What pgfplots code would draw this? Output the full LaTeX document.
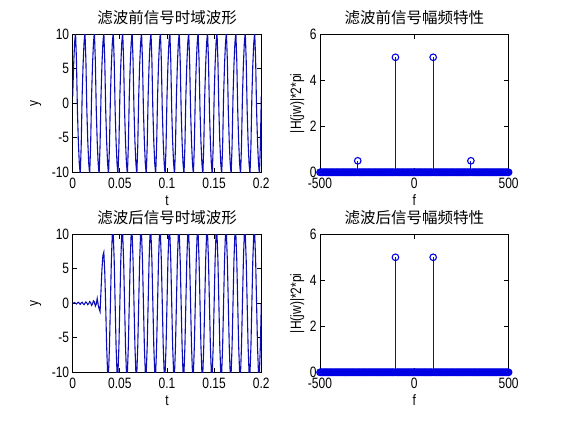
\documentclass[border=0pt]{standalone}
\usepackage{fontspec}
\setmainfont{Liberation Sans}[FakeStretch=0.8]
\newfontfamily\cjk{Noto Sans CJK SC}
\usepackage{pgfplots}
\pgfplotsset{compat=1.18}
\definecolor{mline}{rgb}{0.05,0.05,0.72}
\definecolor{mmark}{rgb}{0.0,0.0,0.9}
\pgfplotsset{
  ml/.style={
    scale only axis, width=188.6pt, height=138pt,
    axis line style={line width=0.9pt, black},
    tick style={black, line width=0.9pt},
    major tick length=4.5pt, tick align=inside,
    tick label style={font=\fontsize{15}{15}\selectfont},
    label style={font=\fontsize{15}{15}\selectfont},
    title style={font=\cjk\fontsize{15.5}{16}\selectfont, at={(axis description cs:0.5,1.0)}, anchor=south},
    enlargelimits=false,
    xticklabel style={yshift=-2pt},
    xlabel style={at={(axis description cs:0.5,-0.237)}, anchor=base},
  },
  tl/.style={ml, xmin=0, xmax=0.2, ymin=-10, ymax=10,
    xtick={0,0.05,0.1,0.15,0.2}, xticklabels={0,0.05,0.1,0.15,0.2},
    ytick={-10,-5,0,5,10}, yticklabels={-10,-5,0,5,10},
    xlabel={t}, ylabel={y},
    ylabel style={at={(axis description cs:-0.196,0.5)}, anchor=center},
  },
  sp/.style={ml, xmin=-500, xmax=500, ymin=0, ymax=6,
    xtick={-500,0,500}, xticklabels={-500,0,500},
    ytick={0,2,4,6}, yticklabels={0,2,4,6},
    xlabel={f}, ylabel={|H(jw)|*2*pi},
    ylabel style={at={(axis description cs:-0.12,0.5)}, anchor=center},
  },
}
\begin{document}
\begin{tikzpicture}
\path[use as bounding box] (0,0) rectangle (561pt,420pt);

% ---------------- top left ----------------
\begin{axis}[tl, at={(72.7pt,247.7pt)}, anchor=south west,
  title={滤波前信号时域波形}]
\addplot[mline, line width=1.1pt, no marks] coordinates {
(0.000,1)(0.001,5.569)(0.002,8.702)(0.003,10.32)(0.004,6.187)(0.005,-1)(0.006,-5.569)(0.007,-8.702)(0.008,-10.32)(0.009,-6.187)
(0.010,1)(0.011,5.569)(0.012,8.702)(0.013,10.32)(0.014,6.187)(0.015,-1)(0.016,-5.569)(0.017,-8.702)(0.018,-10.32)(0.019,-6.187)
(0.020,1)(0.021,5.569)(0.022,8.702)(0.023,10.32)(0.024,6.187)(0.025,-1)(0.026,-5.569)(0.027,-8.702)(0.028,-10.32)(0.029,-6.187)
(0.030,1)(0.031,5.569)(0.032,8.702)(0.033,10.32)(0.034,6.187)(0.035,-1)(0.036,-5.569)(0.037,-8.702)(0.038,-10.32)(0.039,-6.187)
(0.040,1)(0.041,5.569)(0.042,8.702)(0.043,10.32)(0.044,6.187)(0.045,-1)(0.046,-5.569)(0.047,-8.702)(0.048,-10.32)(0.049,-6.187)
(0.050,1)(0.051,5.569)(0.052,8.702)(0.053,10.32)(0.054,6.187)(0.055,-1)(0.056,-5.569)(0.057,-8.702)(0.058,-10.32)(0.059,-6.187)
(0.060,1)(0.061,5.569)(0.062,8.702)(0.063,10.32)(0.064,6.187)(0.065,-1)(0.066,-5.569)(0.067,-8.702)(0.068,-10.32)(0.069,-6.187)
(0.070,1)(0.071,5.569)(0.072,8.702)(0.073,10.32)(0.074,6.187)(0.075,-1)(0.076,-5.569)(0.077,-8.702)(0.078,-10.32)(0.079,-6.187)
(0.080,1)(0.081,5.569)(0.082,8.702)(0.083,10.32)(0.084,6.187)(0.085,-1)(0.086,-5.569)(0.087,-8.702)(0.088,-10.32)(0.089,-6.187)
(0.090,1)(0.091,5.569)(0.092,8.702)(0.093,10.32)(0.094,6.187)(0.095,-1)(0.096,-5.569)(0.097,-8.702)(0.098,-10.32)(0.099,-6.187)
(0.100,1)(0.101,5.569)(0.102,8.702)(0.103,10.32)(0.104,6.187)(0.105,-1)(0.106,-5.569)(0.107,-8.702)(0.108,-10.32)(0.109,-6.187)
(0.110,1)(0.111,5.569)(0.112,8.702)(0.113,10.32)(0.114,6.187)(0.115,-1)(0.116,-5.569)(0.117,-8.702)(0.118,-10.32)(0.119,-6.187)
(0.120,1)(0.121,5.569)(0.122,8.702)(0.123,10.32)(0.124,6.187)(0.125,-1)(0.126,-5.569)(0.127,-8.702)(0.128,-10.32)(0.129,-6.187)
(0.130,1)(0.131,5.569)(0.132,8.702)(0.133,10.32)(0.134,6.187)(0.135,-1)(0.136,-5.569)(0.137,-8.702)(0.138,-10.32)(0.139,-6.187)
(0.140,1)(0.141,5.569)(0.142,8.702)(0.143,10.32)(0.144,6.187)(0.145,-1)(0.146,-5.569)(0.147,-8.702)(0.148,-10.32)(0.149,-6.187)
(0.150,1)(0.151,5.569)(0.152,8.702)(0.153,10.32)(0.154,6.187)(0.155,-1)(0.156,-5.569)(0.157,-8.702)(0.158,-10.32)(0.159,-6.187)
(0.160,1)(0.161,5.569)(0.162,8.702)(0.163,10.32)(0.164,6.187)(0.165,-1)(0.166,-5.569)(0.167,-8.702)(0.168,-10.32)(0.169,-6.187)
(0.170,1)(0.171,5.569)(0.172,8.702)(0.173,10.32)(0.174,6.187)(0.175,-1)(0.176,-5.569)(0.177,-8.702)(0.178,-10.32)(0.179,-6.187)
(0.180,1)(0.181,5.569)(0.182,8.702)(0.183,10.32)(0.184,6.187)(0.185,-1)(0.186,-5.569)(0.187,-8.702)(0.188,-10.32)(0.189,-6.187)
(0.190,1)(0.191,5.569)(0.192,8.702)(0.193,10.32)(0.194,6.187)(0.195,-1)(0.196,-5.569)(0.197,-8.702)(0.198,-10.32)(0.199,-6.187)
(0.200,1)
};
\end{axis}

% ---------------- top right ----------------
\begin{axis}[sp, at={(320pt,247.7pt)}, anchor=south west,
  title={滤波前信号幅频特性}]
\addplot[ycomb, color=mline, line width=1pt, mark=o, mark size=3.3pt, mark options={draw=mmark, line width=1.1pt, solid}] coordinates {
(-500,0)(-495,0)(-490,0)(-485,0)(-480,0)(-475,0)(-470,0)(-465,0)(-460,0)(-455,0)
(-450,0)(-445,0)(-440,0)(-435,0)(-430,0)(-425,0)(-420,0)(-415,0)(-410,0)(-405,0)
(-400,0)(-395,0)(-390,0)(-385,0)(-380,0)(-375,0)(-370,0)(-365,0)(-360,0)(-355,0)
(-350,0)(-345,0)(-340,0)(-335,0)(-330,0)(-325,0)(-320,0)(-315,0)(-310,0)(-305,0)
(-300,0.5)(-295,0)(-290,0)(-285,0)(-280,0)(-275,0)(-270,0)(-265,0)(-260,0)(-255,0)
(-250,0)(-245,0)(-240,0)(-235,0)(-230,0)(-225,0)(-220,0)(-215,0)(-210,0)(-205,0)
(-200,0)(-195,0)(-190,0)(-185,0)(-180,0)(-175,0)(-170,0)(-165,0)(-160,0)(-155,0)
(-150,0)(-145,0)(-140,0)(-135,0)(-130,0)(-125,0)(-120,0)(-115,0)(-110,0)(-105,0)
(-100,5)(-95,0)(-90,0)(-85,0)(-80,0)(-75,0)(-70,0)(-65,0)(-60,0)(-55,0)
(-50,0)(-45,0)(-40,0)(-35,0)(-30,0)(-25,0)(-20,0)(-15,0)(-10,0)(-5,0)
(0,0)(5,0)(10,0)(15,0)(20,0)(25,0)(30,0)(35,0)(40,0)(45,0)
(50,0)(55,0)(60,0)(65,0)(70,0)(75,0)(80,0)(85,0)(90,0)(95,0)
(100,5)(105,0)(110,0)(115,0)(120,0)(125,0)(130,0)(135,0)(140,0)(145,0)
(150,0)(155,0)(160,0)(165,0)(170,0)(175,0)(180,0)(185,0)(190,0)(195,0)
(200,0)(205,0)(210,0)(215,0)(220,0)(225,0)(230,0)(235,0)(240,0)(245,0)
(250,0)(255,0)(260,0)(265,0)(270,0)(275,0)(280,0)(285,0)(290,0)(295,0)
(300,0.5)(305,0)(310,0)(315,0)(320,0)(325,0)(330,0)(335,0)(340,0)(345,0)
(350,0)(355,0)(360,0)(365,0)(370,0)(375,0)(380,0)(385,0)(390,0)(395,0)
(400,0)(405,0)(410,0)(415,0)(420,0)(425,0)(430,0)(435,0)(440,0)(445,0)
(450,0)(455,0)(460,0)(465,0)(470,0)(475,0)(480,0)(485,0)(490,0)(495,0)
(500,0)
};
\end{axis}

% ---------------- bottom left ----------------
\begin{axis}[tl, at={(72.7pt,47.7pt)}, anchor=south west,
  title={滤波后信号时域波形}]
\addplot[mline, line width=1.1pt, no marks] coordinates {
(0.000,0)(0.001,0.05)(0.002,0.1)(0.003,0)(0.004,-0.1)(0.005,0.05)(0.006,0.15)(0.007,0)(0.008,-0.15)(0.009,0.05)
(0.010,0.15)(0.011,-0.05)(0.012,-0.2)(0.013,0)(0.014,0.2)(0.015,0.05)(0.016,-0.2)(0.017,-0.05)(0.018,0.25)(0.019,0.1)
(0.020,-0.3)(0.021,-0.1)(0.022,0.35)(0.023,0.2)(0.024,-0.4)(0.025,-0.1)(0.026,0.7)(0.027,-0.2)(0.028,-0.8)(0.029,-1.2)
(0.030,1.8)(0.031,4.9)(0.032,6.9)(0.033,7.4)(0.034,4.5)(0.035,-0.5)(0.036,-6.23)(0.037,-10.08)(0.038,-10.08)(0.039,-6.23)
(0.040,0)(0.041,6.23)(0.042,10.08)(0.043,10.08)(0.044,6.23)(0.045,0)(0.046,-6.23)(0.047,-10.08)(0.048,-10.08)(0.049,-6.23)
(0.050,0)(0.051,6.23)(0.052,10.08)(0.053,10.08)(0.054,6.23)(0.055,0)(0.056,-6.23)(0.057,-10.08)(0.058,-10.08)(0.059,-6.23)
(0.060,0)(0.061,6.23)(0.062,10.08)(0.063,10.08)(0.064,6.23)(0.065,0)(0.066,-6.23)(0.067,-10.08)(0.068,-10.08)(0.069,-6.23)
(0.070,0)(0.071,6.23)(0.072,10.08)(0.073,10.08)(0.074,6.23)(0.075,0)(0.076,-6.23)(0.077,-10.08)(0.078,-10.08)(0.079,-6.23)
(0.080,0)(0.081,6.23)(0.082,10.08)(0.083,10.08)(0.084,6.23)(0.085,0)(0.086,-6.23)(0.087,-10.08)(0.088,-10.08)(0.089,-6.23)
(0.090,0)(0.091,6.23)(0.092,10.08)(0.093,10.08)(0.094,6.23)(0.095,0)(0.096,-6.23)(0.097,-10.08)(0.098,-10.08)(0.099,-6.23)
(0.100,0)(0.101,6.23)(0.102,10.08)(0.103,10.08)(0.104,6.23)(0.105,0)(0.106,-6.23)(0.107,-10.08)(0.108,-10.08)(0.109,-6.23)
(0.110,0)(0.111,6.23)(0.112,10.08)(0.113,10.08)(0.114,6.23)(0.115,0)(0.116,-6.23)(0.117,-10.08)(0.118,-10.08)(0.119,-6.23)
(0.120,0)(0.121,6.23)(0.122,10.08)(0.123,10.08)(0.124,6.23)(0.125,0)(0.126,-6.23)(0.127,-10.08)(0.128,-10.08)(0.129,-6.23)
(0.130,0)(0.131,6.23)(0.132,10.08)(0.133,10.08)(0.134,6.23)(0.135,0)(0.136,-6.23)(0.137,-10.08)(0.138,-10.08)(0.139,-6.23)
(0.140,0)(0.141,6.23)(0.142,10.08)(0.143,10.08)(0.144,6.23)(0.145,0)(0.146,-6.23)(0.147,-10.08)(0.148,-10.08)(0.149,-6.23)
(0.150,0)(0.151,6.23)(0.152,10.08)(0.153,10.08)(0.154,6.23)(0.155,0)(0.156,-6.23)(0.157,-10.08)(0.158,-10.08)(0.159,-6.23)
(0.160,0)(0.161,6.23)(0.162,10.08)(0.163,10.08)(0.164,6.23)(0.165,0)(0.166,-6.23)(0.167,-10.08)(0.168,-10.08)(0.169,-6.23)
(0.170,0)(0.171,6.23)(0.172,10.08)(0.173,10.08)(0.174,6.23)(0.175,0)(0.176,-6.23)(0.177,-10.08)(0.178,-10.08)(0.179,-6.23)
(0.180,0)(0.181,6.23)(0.182,10.08)(0.183,10.08)(0.184,6.23)(0.185,0)(0.186,-6.23)(0.187,-10.08)(0.188,-10.08)(0.189,-6.23)
(0.190,0)(0.191,6.23)(0.192,10.08)(0.193,10.08)(0.194,6.23)(0.195,0)(0.196,-6.23)(0.197,-10.08)(0.198,-10.08)(0.199,-6.23)
(0.200,0)
};
\end{axis}

% ---------------- bottom right ----------------
\begin{axis}[sp, at={(320pt,47.7pt)}, anchor=south west,
  title={滤波后信号幅频特性}]
\addplot[ycomb, color=mline, line width=1pt, mark=o, mark size=3.3pt, mark options={draw=mmark, line width=1.1pt, solid}] coordinates {
(-500,0)(-495,0)(-490,0)(-485,0)(-480,0)(-475,0)(-470,0)(-465,0)(-460,0)(-455,0)
(-450,0)(-445,0)(-440,0)(-435,0)(-430,0)(-425,0)(-420,0)(-415,0)(-410,0)(-405,0)
(-400,0)(-395,0)(-390,0)(-385,0)(-380,0)(-375,0)(-370,0)(-365,0)(-360,0)(-355,0)
(-350,0)(-345,0)(-340,0)(-335,0)(-330,0)(-325,0)(-320,0)(-315,0)(-310,0)(-305,0)
(-300,0)(-295,0)(-290,0)(-285,0)(-280,0)(-275,0)(-270,0)(-265,0)(-260,0)(-255,0)
(-250,0)(-245,0)(-240,0)(-235,0)(-230,0)(-225,0)(-220,0)(-215,0)(-210,0)(-205,0)
(-200,0)(-195,0)(-190,0)(-185,0)(-180,0)(-175,0)(-170,0)(-165,0)(-160,0)(-155,0)
(-150,0)(-145,0)(-140,0)(-135,0)(-130,0)(-125,0)(-120,0)(-115,0)(-110,0)(-105,0)
(-100,5)(-95,0)(-90,0)(-85,0)(-80,0)(-75,0)(-70,0)(-65,0)(-60,0)(-55,0)
(-50,0)(-45,0)(-40,0)(-35,0)(-30,0)(-25,0)(-20,0)(-15,0)(-10,0)(-5,0)
(0,0)(5,0)(10,0)(15,0)(20,0)(25,0)(30,0)(35,0)(40,0)(45,0)
(50,0)(55,0)(60,0)(65,0)(70,0)(75,0)(80,0)(85,0)(90,0)(95,0)
(100,5)(105,0)(110,0)(115,0)(120,0)(125,0)(130,0)(135,0)(140,0)(145,0)
(150,0)(155,0)(160,0)(165,0)(170,0)(175,0)(180,0)(185,0)(190,0)(195,0)
(200,0)(205,0)(210,0)(215,0)(220,0)(225,0)(230,0)(235,0)(240,0)(245,0)
(250,0)(255,0)(260,0)(265,0)(270,0)(275,0)(280,0)(285,0)(290,0)(295,0)
(300,0)(305,0)(310,0)(315,0)(320,0)(325,0)(330,0)(335,0)(340,0)(345,0)
(350,0)(355,0)(360,0)(365,0)(370,0)(375,0)(380,0)(385,0)(390,0)(395,0)
(400,0)(405,0)(410,0)(415,0)(420,0)(425,0)(430,0)(435,0)(440,0)(445,0)
(450,0)(455,0)(460,0)(465,0)(470,0)(475,0)(480,0)(485,0)(490,0)(495,0)
(500,0)
};
\end{axis}
\end{tikzpicture}
\end{document}
